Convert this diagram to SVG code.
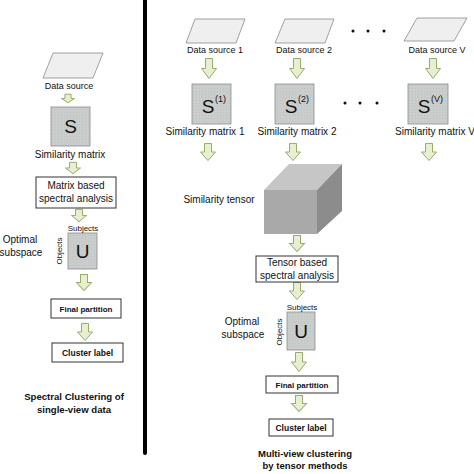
<svg xmlns="http://www.w3.org/2000/svg" xmlns:xlink="http://www.w3.org/1999/xlink" width="474" height="474" viewBox="0 0 474 474">
<style>
text{font-family:"Liberation Sans",Arial,sans-serif;fill:#111;}
.t9{font-size:9px;text-anchor:middle;}
.t10{font-size:10px;text-anchor:middle;}
.t8{font-size:8px;text-anchor:middle;}
.b{font-weight:bold;text-anchor:middle;}
.ds{fill:#efefef;stroke:#8c8c8c;stroke-width:0.8;}
.mat{fill:url(#dots);stroke:#8c8c8c;stroke-width:0.8;}
.box{fill:#fff;stroke:#333;stroke-width:1;}
.big{font-size:19px;text-anchor:middle;}
.arr{fill:#e6efcf;stroke:#9aab6e;stroke-width:1;vector-effect:non-scaling-stroke;}
</style>
<defs>
<pattern id="dots" width="3" height="3" patternUnits="userSpaceOnUse">
<rect width="3" height="3" fill="#c9cdcc"/>
<rect x="1" y="1" width="1" height="1" fill="#bdc2c1"/>
</pattern>
<symbol id="arrow" viewBox="0 0 16 20" preserveAspectRatio="none" overflow="visible">
<path class="arr" d="M4.5,0.5 H11.5 V10 H15.5 L8,19.5 L0.5,10 H4.5 Z"/>
</symbol>
</defs>
<rect width="474" height="474" fill="#fff"/>
<line x1="145" y1="0" x2="145" y2="453" stroke="#000" stroke-width="4" stroke-linecap="round"/>

<g id="connectors">
<use xlink:href="#arrow" x="61" y="94" width="14" height="9"/>
<use xlink:href="#arrow" x="65" y="162" width="16" height="12"/>
<use xlink:href="#arrow" x="71" y="209" width="16" height="13"/>
<use xlink:href="#arrow" x="76" y="274" width="16" height="17"/>
<use xlink:href="#arrow" x="77" y="323" width="16" height="18"/>
<use xlink:href="#arrow" x="201" y="58" width="16" height="21"/>
<use xlink:href="#arrow" x="289" y="58" width="16" height="21"/>
<use xlink:href="#arrow" x="425" y="58" width="16" height="21"/>
<use xlink:href="#arrow" x="200" y="143" width="16" height="18"/>
<use xlink:href="#arrow" x="285" y="143" width="16" height="18"/>
<use xlink:href="#arrow" x="421" y="143" width="16" height="18"/>
<use xlink:href="#arrow" x="289" y="235" width="16" height="17"/>
<use xlink:href="#arrow" x="289" y="282" width="16" height="18"/>
<use xlink:href="#arrow" x="291" y="352" width="16" height="20"/>
<use xlink:href="#arrow" x="291" y="395" width="16" height="17"/>
</g>

<g id="left-datasource">
<polygon class="ds" points="53,53 103,53 93,78 43,78"/>
<text class="t9" x="69" y="89">Data source</text>
</g>
<g id="left-similarity">
<rect class="mat" x="51" y="107" width="39" height="39"/>
<text class="big" x="70.5" y="133">S</text>
<text class="t10" x="70" y="158">Similarity matrix</text>
</g>
<g id="left-spectral">
<rect class="box" x="36" y="177" width="80" height="31"/>
<text class="t10" x="76" y="189">Matrix based</text>
<text class="t10" x="76" y="202">spectral analysis</text>
</g>
<g id="left-subspace">
<rect class="mat" x="68" y="233" width="29" height="36"/>
<text class="big" x="82.5" y="258">U</text>
<text class="t8" x="83" y="231">Subjects</text>
<text class="t8" transform="translate(62,251) rotate(-90)">Objects</text>
<text class="t10" x="20" y="243">Optimal</text>
<text class="t10" x="21" y="256">subspace</text>
</g>
<g id="left-final">
<rect class="box" x="51" y="299" width="70" height="19"/>
<text class="b" style="font-size:8px" x="86" y="312">Final partition</text>
</g>
<g id="left-cluster">
<rect class="box" x="52" y="343" width="71" height="19"/>
<text class="b" style="font-size:8.5px" x="87.5" y="356">Cluster label</text>
</g>
<g id="left-caption">
<text class="b" style="font-size:9.6px" x="74" y="400">Spectral Clustering of</text>
<text class="b" style="font-size:9.6px" x="74" y="413">single-view data</text>
</g>

<g id="ds1">
<polygon class="ds" points="195,19 245,19 236,43 186,43"/>
<text class="t9" x="215" y="53">Data source 1</text>
</g>
<g id="ds2">
<polygon class="ds" points="285,19 334,19 325,43 275,43"/>
<text class="t9" x="304" y="53">Data source 2</text>
</g>
<g id="dots-top">
<circle cx="353" cy="31" r="1.5" fill="#111"/>
<circle cx="368" cy="31" r="1.5" fill="#111"/>
<circle cx="384" cy="31" r="1.5" fill="#111"/>
</g>
<g id="dsV">
<polygon class="ds" points="417,18 467,18 454,41 404,41"/>
<text class="t9" x="437" y="53">Data source V</text>
</g>

<g id="s1">
<rect class="mat" x="192" y="84" width="39" height="40"/>
<text x="208" y="113" style="font-size:19px;text-anchor:middle">S</text>
<text x="215" y="102" style="font-size:9px">(1)</text>
<text class="t10" x="205" y="135">Similarity matrix 1</text>
</g>
<g id="s2">
<rect class="mat" x="275" y="84" width="39" height="40"/>
<text x="291" y="113" style="font-size:19px;text-anchor:middle">S</text>
<text x="298" y="102" style="font-size:9px">(2)</text>
<text class="t10" x="297" y="135">Similarity matrix 2</text>
</g>
<g id="dots-mid">
<circle cx="345" cy="103" r="1.5" fill="#111"/>
<circle cx="360" cy="103" r="1.5" fill="#111"/>
<circle cx="377" cy="103" r="1.5" fill="#111"/>
</g>
<g id="sV">
<rect class="mat" x="408" y="84" width="40" height="40"/>
<text x="424" y="113" style="font-size:19px;text-anchor:middle">S</text>
<text x="431" y="102" style="font-size:9px">(V)</text>
<text class="t10" x="435" y="135">Similarity matrix V</text>
</g>

<g id="tensor">
<polygon points="264,190 289,164 342,164 317,190" fill="#c6c6c6"/>
<rect x="264" y="190" width="53" height="44" fill="#a9a9a9"/>
<polygon points="317,190 342,164 342,211 317,234" fill="#8c8c8c"/>
<text class="t10" x="219" y="203">Similarity tensor</text>
</g>
<g id="tensor-spectral">
<rect class="box" x="256" y="256" width="82" height="26"/>
<text class="t10" x="297" y="266">Tensor based</text>
<text class="t10" x="297" y="279">spectral analysis</text>
</g>
<g id="right-subspace">
<rect class="mat" x="287" y="312" width="28" height="38"/>
<text class="big" x="301" y="338">U</text>
<text class="t8" x="302" y="310">Subjects</text>
<text class="t8" transform="translate(282,332) rotate(-90)">Objects</text>
<text class="t10" x="242" y="325">Optimal</text>
<text class="t10" x="243" y="338">subspace</text>
</g>
<g id="right-final">
<rect class="box" x="266" y="376" width="72" height="17"/>
<text class="b" style="font-size:8px" x="302" y="387.5">Final partition</text>
</g>
<g id="right-cluster">
<rect class="box" x="269" y="419" width="64" height="17"/>
<text class="b" style="font-size:8.5px" x="301" y="430.5">Cluster label</text>
</g>
<g id="right-caption">
<text class="b" style="font-size:9.5px" x="305" y="457">Multi-view clustering</text>
<text class="b" style="font-size:9.5px" x="305" y="469">by tensor methods</text>
</g>
</svg>
